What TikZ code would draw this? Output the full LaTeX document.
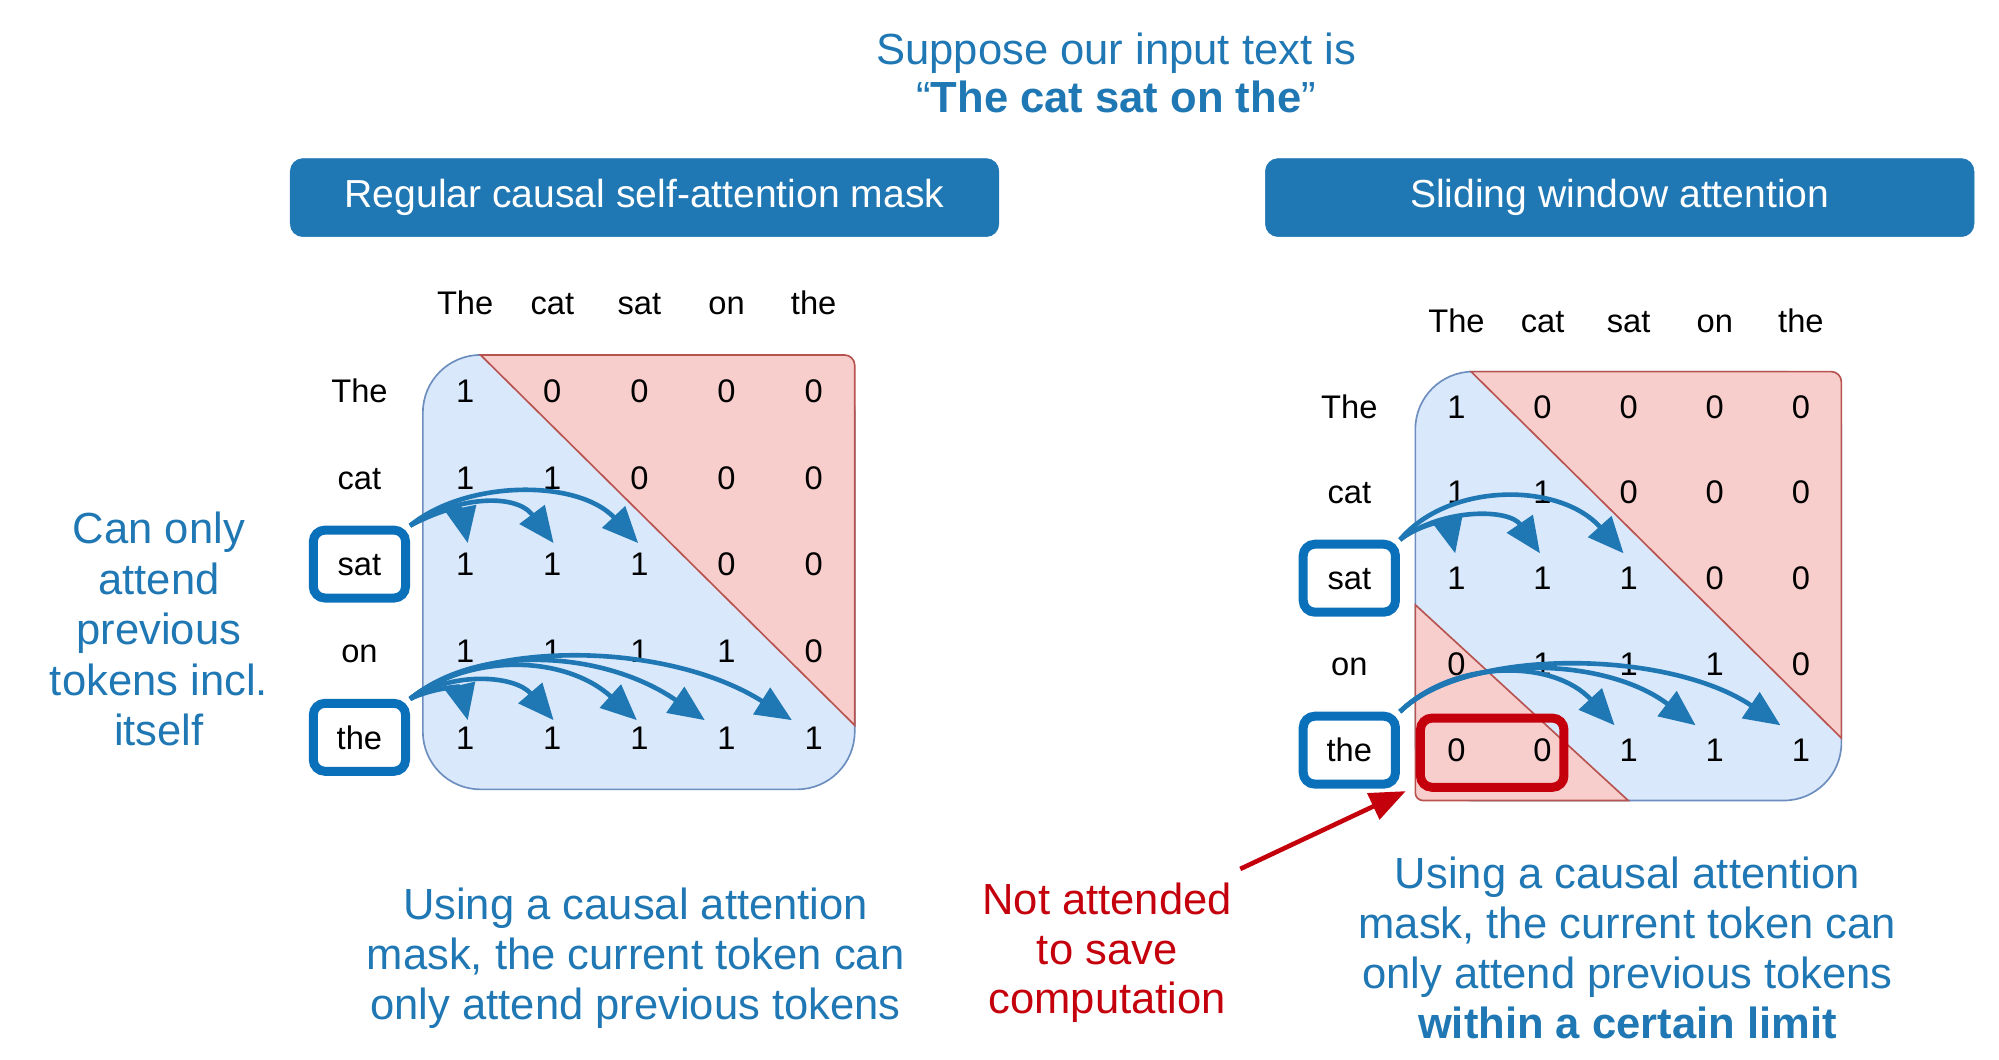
\documentclass[tikz,border=0pt]{standalone}
\usepackage{fontspec}
\setmainfont{Liberation Sans}
\usetikzlibrary{arrows.meta}

\definecolor{inkblue}{RGB}{31,119,180}
\definecolor{tokblue}{RGB}{10,112,186}
\definecolor{maskblue}{HTML}{DAE8FC}
\definecolor{maskblueline}{HTML}{6C8EBF}
\definecolor{maskred}{HTML}{F8CECC}
\definecolor{maskredline}{HTML}{B85450}
\definecolor{inkred}{RGB}{196,0,12}

\begin{document}
\begin{tikzpicture}[x=1pt, y=1pt,
        lbl/.style={font=\fontsize{25.5}{30}\selectfont, inner sep=2pt,
            text height=18.4pt, text depth=0pt},
        tokbox/.style={lbl, draw=tokblue, line width=7pt, rounded corners=9pt,
            minimum width=72pt, minimum height=53pt},
        headbox/.style={fill=inkblue, draw=inkblue, rounded corners=10pt,
            minimum width=553pt, minimum height=61pt, text=white,
            font=\fontsize{30.5}{36}\selectfont},
        bluetxt/.style={text=inkblue, align=center, font=\fontsize{34}{39}\selectfont},
        redtxt/.style={text=inkred, align=center, font=\fontsize{34}{39}\selectfont},
        lowpart/.style={fill=maskblue, draw=maskblueline, line width=1.3pt},
        highpart/.style={fill=maskred, draw=maskredline, line width=1.3pt},
        attn/.style={draw=inkblue, line width=3.6pt, -{Triangle[length=28pt, width=24pt]}},
        skiparrow/.style={draw=inkred, line width=3.6pt, -{Triangle[length=28pt, width=22pt]}}]
    \useasboundingbox (0,0) rectangle (1560,-827.2);

    \node[bluetxt, font=\fontsize{34}{37}\selectfont] (title) at (871,-57)
        {Suppose our input text is\\“\textbf{The cat sat on the}”};
    \node[headbox] (lhead) at (503,-154.2) {Regular causal self-attention mask};
    \node[headbox] (rhead) at (1264,-154.2) {Sliding window attention};

    % regular causal mask
    \draw[lowpart, rounded corners=45pt] (330,-277) rectangle (667,-616);
    \draw[highpart] (375,-277) -- (659,-277) arc[start angle=90, end angle=0, radius=8]
        -- (667,-566) -- cycle;
    \foreach \w/\s [count=\i from 0] in {The/lbl, cat/lbl, sat/tokbox, on/lbl, the/tokbox} {
        \node[lbl] (Lc\i) at (363+68*\i, -236.5) {\w};
        \node[\s] (Lr\i) at (280.5, -305-67.6*\i) {\w};
    }
    \foreach \r in {0,...,4}
        \foreach \c in {0,...,4} {
            \pgfmathtruncatemacro\v{\c<=\r}
            \node[lbl] (L-\r-\c) at (363+68*\c, -305-67.6*\r) {\v};
        }

    % sliding window
    \draw[lowpart, rounded corners=45pt] (1104.5,-290) rectangle (1437,-624.7);
    \draw[highpart] (1148,-290) -- (1429,-290) arc[start angle=90, end angle=0, radius=8]
        -- (1437,-576) -- cycle;
    \draw[highpart] (1104.5,-472) -- (1270.6,-624.7) -- (1110.5,-624.7)
        arc[start angle=270, end angle=180, radius=6] -- cycle;
    \foreach \w/\s [count=\i from 0] in {The/lbl, cat/lbl, sat/tokbox, on/lbl, the/tokbox} {
        \node[lbl] (Rc\i) at (1136.6+67.2*\i, -250) {\w};
        \node[\s] (Rr\i) at (1053, -317-67.1*\i) {\w};
    }
    \foreach \r in {0,...,4}
        \foreach \c in {0,...,4} {
            \pgfmathtruncatemacro\v{(\c<=\r)*((\r-\c)<3)}
            \node[lbl] (R-\r-\c) at (1136.6+67.2*\c, -317-67.1*\r) {\v};
        }
    \node[draw=inkred, line width=7pt, rounded corners=9pt, minimum width=112pt,
        minimum height=54pt] (skipbox) at (1164.5,-587.4) {};

    % attention arrows
    \draw[attn] (Lr2.north east) .. controls +(19,10) and +(-6,30) .. ([shift={(2,5)}]L-2-0.north);
    \draw[attn] (Lr2.north east) .. controls +(34,22) and +(-30,40) .. ([shift={(1,5)}]L-2-1.north);
    \draw[attn] (Lr2.north east) .. controls +(44,36) and +(-47,50) .. ([shift={(-1,5)}]L-2-2.north);
    \draw[attn] (Lr4.north east) .. controls +(19,9) and +(-6,26) .. ([shift={(2,2)}]L-4-0.north);
    \draw[attn] (Lr4.north east) .. controls +(34,22) and +(-30,35) .. ([shift={(1,2)}]L-4-1.north);
    \draw[attn] (Lr4.north east) .. controls +(49,37) and +(-55,50) .. ([shift={(-2,2)}]L-4-2.north);
    \draw[attn] (Lr4.north east) .. controls +(54,44) and +(-78,54) .. ([shift={(-17,2)}]L-4-3.north);
    \draw[attn] (Lr4.north east) .. controls +(59,47) and +(-96,61) .. ([shift={(-17,2)}]L-4-4.north);

    \draw[attn] (Rr2.north east) .. controls +(13,11) and +(-6,26) .. ([shift={(-1,8)}]R-2-0.north);
    \draw[attn] (Rr2.north east) .. controls +(33,25) and +(-24,35) .. ([shift={(-2,8)}]R-2-1.north);
    \draw[attn] (Rr2.north east) .. controls +(38,45) and +(-50,56) .. ([shift={(-4,8)}]R-2-2.north);
    \draw[attn] (Rr4.north east) .. controls +(42,41) and +(-48,52) .. ([shift={(-11,8)}]R-4-2.north);
    \draw[attn] (Rr4.north east) .. controls +(47,46) and +(-71,54) .. ([shift={(-15,8)}]R-4-3.north);
    \draw[attn] (Rr4.north east) .. controls +(52,51) and +(-87,59) .. ([shift={(-16,8)}]R-4-4.north);

    % captions
    \node[bluetxt, font=\fontsize{34}{39.5}\selectfont] (leftnote) at (124,-491)
        {Can only\\attend\\previous\\tokens incl.\\itself};
    \node[bluetxt] (leftcap) at (496,-748)
        {Using a causal attention\\mask, the current token can\\only attend previous tokens};
    \node[redtxt] (note) at (864,-743.5) {Not attended\\to save\\computation};
    \node[bluetxt] (rightcap) at (1270,-740)
        {Using a causal attention\\mask, the current token can\\only attend previous tokens\\\textbf{within a certain limit}};
    \draw[skiparrow] ([shift={(3,7)}]note.north east) -- ([shift={(-8,0.5)}]skipbox.south west);
\end{tikzpicture}
\end{document}
